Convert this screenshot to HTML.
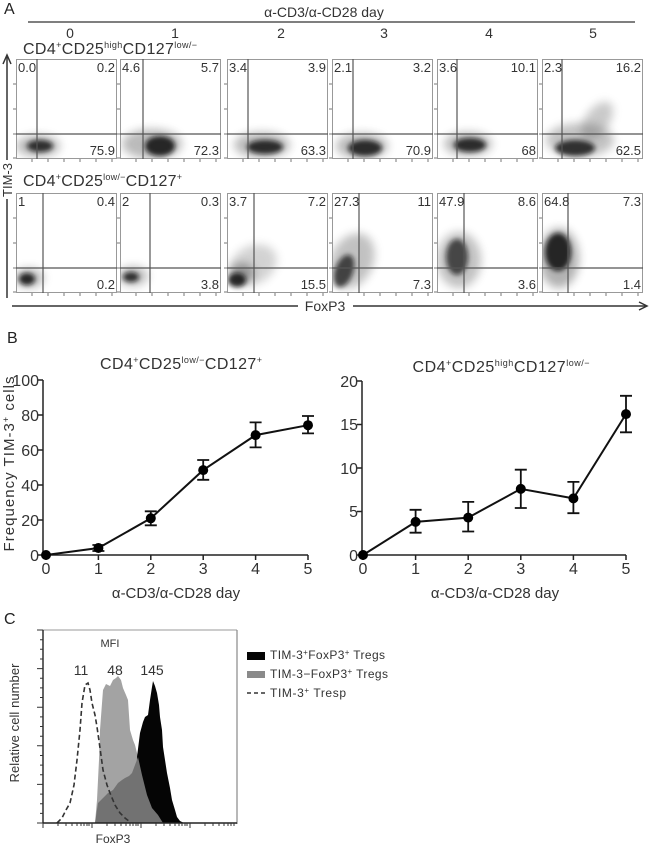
<!DOCTYPE html>
<html><head><meta charset="utf-8"><style>
html,body{margin:0;padding:0;background:#fff;}
svg{display:block;font-family:"Liberation Sans",sans-serif;}
</style></head><body>
<svg width="650" height="844" viewBox="0 0 650 844" xmlns="http://www.w3.org/2000/svg">
<defs>
<filter id="b1" x="-60%" y="-60%" width="220%" height="220%"><feGaussianBlur stdDeviation="2.4"/></filter>
<filter id="b2" x="-60%" y="-60%" width="220%" height="220%"><feGaussianBlur stdDeviation="4.5"/></filter>
<g id="box">
<rect x="0.5" y="0.5" width="100" height="99" fill="none" stroke="#999" stroke-width="1"/>
<path d="M0,25h-3M0,50h-3M0,75h-3M0,99h-3M16,100v3M32,100v3M48,100v3M64,100v3M80,100v3M96,100v3" stroke="#777" stroke-width="1"/>
</g>
</defs>
<rect width="650" height="844" fill="#fff"/>

<!-- Panel A header -->
<text x="4" y="14" font-size="16" fill="#222">A</text>
<text x="324" y="17" font-size="14" fill="#333" text-anchor="middle">α-CD3/α-CD28 day</text>
<line x1="28" y1="22" x2="635" y2="22" stroke="#555" stroke-width="1.6"/>
<g font-size="14" fill="#333" text-anchor="middle">
<text x="70" y="38">0</text><text x="175" y="38">1</text><text x="281" y="38">2</text>
<text x="384" y="38">3</text><text x="489" y="38">4</text><text x="593" y="38">5</text>
</g>
<text x="23" y="54" font-size="16" fill="#333" textLength="174" lengthAdjust="spacing">CD4<tspan font-size="9" dy="-6">+</tspan><tspan dy="6">CD25</tspan><tspan font-size="9" dy="-6">high</tspan><tspan dy="6">CD127</tspan><tspan font-size="9" dy="-6">low/−</tspan></text>
<text x="23" y="186" font-size="16" fill="#333" textLength="159" lengthAdjust="spacing">CD4<tspan font-size="9" dy="-6">+</tspan><tspan dy="6">CD25</tspan><tspan font-size="9" dy="-6">low/−</tspan><tspan dy="6">CD127</tspan><tspan font-size="9" dy="-6">+</tspan></text>

<!-- y arrow -->
<line x1="7" y1="57" x2="7" y2="160" stroke="#333" stroke-width="1.5"/>
<path d="M3,64 L7,55 L11,64" fill="none" stroke="#333" stroke-width="1.5"/>
<text transform="translate(12,180) rotate(-90)" font-size="13" fill="#333" text-anchor="middle">TIM-3</text>
<line x1="7" y1="199" x2="7" y2="298" stroke="#333" stroke-width="1.5"/>
<!-- x arrow -->
<line x1="12" y1="306" x2="298" y2="306" stroke="#333" stroke-width="1.5"/>
<text x="325" y="311" font-size="14" fill="#333" text-anchor="middle">FoxP3</text>
<line x1="353" y1="306" x2="646" y2="306" stroke="#333" stroke-width="1.5"/>
<path d="M639,302 L647,306 L639,310" fill="none" stroke="#333" stroke-width="1.5"/>

<!-- Top row plots -->
<g font-size="13" fill="#333">
<g transform="translate(16,59)">
<svg width="101" height="100" overflow="hidden">
<ellipse cx="22" cy="87" rx="22" ry="11" fill="#555" opacity="0.4" filter="url(#b2)"/>
<ellipse cx="24" cy="87" rx="13" ry="6" fill="#111" opacity="0.8" filter="url(#b1)"/>
</svg>
<use href="#box"/>
<line x1="21" y1="0" x2="21" y2="100" stroke="#555" stroke-width="1.2"/><line x1="0" y1="75" x2="101" y2="75" stroke="#555" stroke-width="1.2"/>
<text x="2" y="13">0.0</text><text x="99" y="13" text-anchor="end">0.2</text><text x="99" y="96" text-anchor="end">75.9</text>
</g>
<g transform="translate(120,59)">
<svg width="101" height="100" overflow="hidden">
<ellipse cx="32" cy="85" rx="30" ry="15" fill="#555" opacity="0.4" filter="url(#b2)"/>
<ellipse cx="40" cy="87" rx="15" ry="10" fill="#111" opacity="0.85" filter="url(#b1)"/>
</svg>
<use href="#box"/>
<line x1="23" y1="0" x2="23" y2="100" stroke="#555" stroke-width="1.2"/><line x1="0" y1="75" x2="101" y2="75" stroke="#555" stroke-width="1.2"/>
<text x="2" y="13">4.6</text><text x="99" y="13" text-anchor="end">5.7</text><text x="99" y="96" text-anchor="end">72.3</text>
</g>
<g transform="translate(227,59)">
<svg width="101" height="100" overflow="hidden">
<ellipse cx="35" cy="86" rx="28" ry="13" fill="#555" opacity="0.4" filter="url(#b2)"/>
<ellipse cx="38" cy="88" rx="18" ry="7" fill="#111" opacity="0.82" filter="url(#b1)"/>
</svg>
<use href="#box"/>
<line x1="21" y1="0" x2="21" y2="100" stroke="#555" stroke-width="1.2"/><line x1="0" y1="75" x2="101" y2="75" stroke="#555" stroke-width="1.2"/>
<text x="2" y="13">3.4</text><text x="99" y="13" text-anchor="end">3.9</text><text x="99" y="96" text-anchor="end">63.3</text>
</g>
<g transform="translate(332,59)">
<svg width="101" height="100" overflow="hidden">
<ellipse cx="30" cy="87" rx="26" ry="13" fill="#555" opacity="0.4" filter="url(#b2)"/>
<ellipse cx="33" cy="89" rx="17" ry="8" fill="#111" opacity="0.82" filter="url(#b1)"/>
</svg>
<use href="#box"/>
<line x1="21" y1="0" x2="21" y2="100" stroke="#555" stroke-width="1.2"/><line x1="0" y1="75" x2="101" y2="75" stroke="#555" stroke-width="1.2"/>
<text x="2" y="13">2.1</text><text x="99" y="13" text-anchor="end">3.2</text><text x="99" y="96" text-anchor="end">70.9</text>
</g>
<g transform="translate(437,59)">
<svg width="101" height="100" overflow="hidden">
<ellipse cx="31" cy="85" rx="24" ry="12" fill="#555" opacity="0.4" filter="url(#b2)"/>
<ellipse cx="33" cy="86" rx="16" ry="7" fill="#111" opacity="0.82" filter="url(#b1)"/>
</svg>
<use href="#box"/>
<line x1="20" y1="0" x2="20" y2="100" stroke="#555" stroke-width="1.2"/><line x1="0" y1="75" x2="101" y2="75" stroke="#555" stroke-width="1.2"/>
<text x="2" y="13">3.6</text><text x="99" y="13" text-anchor="end">10.1</text><text x="99" y="96" text-anchor="end">68</text>
</g>
<g transform="translate(542,59)">
<svg width="101" height="100" overflow="hidden">
<ellipse cx="38" cy="81" rx="34" ry="17" fill="#555" opacity="0.35" filter="url(#b2)"/>
<ellipse cx="55" cy="62" rx="12" ry="22" transform="rotate(35 55 62)" fill="#666" opacity="0.35" filter="url(#b2)"/>
<ellipse cx="33" cy="89" rx="20" ry="8" fill="#111" opacity="0.8" filter="url(#b1)"/>
</svg>
<use href="#box"/>
<line x1="20" y1="0" x2="20" y2="100" stroke="#555" stroke-width="1.2"/><line x1="0" y1="75" x2="101" y2="75" stroke="#555" stroke-width="1.2"/>
<text x="2" y="13">2.3</text><text x="99" y="13" text-anchor="end">16.2</text><text x="99" y="96" text-anchor="end">62.5</text>
</g>

<!-- Bottom row plots -->
<g transform="translate(16,193)">
<svg width="101" height="100" overflow="hidden">
<ellipse cx="13" cy="85" rx="15" ry="10" fill="#555" opacity="0.38" filter="url(#b2)"/>
<ellipse cx="11" cy="86" rx="8" ry="6" fill="#111" opacity="0.85" filter="url(#b1)"/>
</svg>
<use href="#box"/>
<line x1="27" y1="0" x2="27" y2="100" stroke="#555" stroke-width="1.2"/><line x1="0" y1="75" x2="101" y2="75" stroke="#555" stroke-width="1.2"/>
<text x="2" y="13">1</text><text x="99" y="13" text-anchor="end">0.4</text><text x="99" y="96" text-anchor="end">0.2</text>
</g>
<g transform="translate(120,193)">
<svg width="101" height="100" overflow="hidden">
<ellipse cx="13" cy="83" rx="15" ry="10" fill="#555" opacity="0.38" filter="url(#b2)"/>
<ellipse cx="11" cy="84" rx="8" ry="5" fill="#111" opacity="0.8" filter="url(#b1)"/>
</svg>
<use href="#box"/>
<line x1="30" y1="0" x2="30" y2="100" stroke="#555" stroke-width="1.2"/><line x1="0" y1="75" x2="101" y2="75" stroke="#555" stroke-width="1.2"/>
<text x="2" y="13">2</text><text x="99" y="13" text-anchor="end">0.3</text><text x="99" y="96" text-anchor="end">3.8</text>
</g>
<g transform="translate(227,193)">
<svg width="101" height="100" overflow="hidden">
<ellipse cx="26" cy="72" rx="25" ry="19" transform="rotate(-30 26 72)" fill="#777" opacity="0.32" filter="url(#b2)"/>
<ellipse cx="15" cy="80" rx="12" ry="10" fill="#444" opacity="0.45" filter="url(#b2)"/>
<ellipse cx="10" cy="87" rx="9" ry="7" fill="#111" opacity="0.85" filter="url(#b1)"/>
</svg>
<use href="#box"/>
<line x1="27" y1="0" x2="27" y2="100" stroke="#555" stroke-width="1.2"/><line x1="0" y1="75" x2="101" y2="75" stroke="#555" stroke-width="1.2"/>
<text x="2" y="13">3.7</text><text x="99" y="13" text-anchor="end">7.2</text><text x="99" y="96" text-anchor="end">15.5</text>
</g>
<g transform="translate(332,193)">
<svg width="101" height="100" overflow="hidden">
<ellipse cx="20" cy="68" rx="21" ry="29" transform="rotate(25 20 68)" fill="#666" opacity="0.4" filter="url(#b2)"/>
<ellipse cx="12" cy="78" rx="9" ry="17" transform="rotate(20 12 78)" fill="#111" opacity="0.7" filter="url(#b1)"/>
</svg>
<use href="#box"/>
<line x1="27" y1="0" x2="27" y2="100" stroke="#555" stroke-width="1.2"/><line x1="0" y1="75" x2="101" y2="75" stroke="#555" stroke-width="1.2"/>
<text x="2" y="13">27.3</text><text x="99" y="13" text-anchor="end">11</text><text x="99" y="96" text-anchor="end">7.3</text>
</g>
<g transform="translate(437,193)">
<svg width="101" height="100" overflow="hidden">
<ellipse cx="22" cy="67" rx="22" ry="28" fill="#666" opacity="0.4" filter="url(#b2)"/>
<ellipse cx="20" cy="64" rx="11" ry="18" fill="#111" opacity="0.68" filter="url(#b1)"/>
</svg>
<use href="#box"/>
<line x1="27" y1="0" x2="27" y2="100" stroke="#555" stroke-width="1.2"/><line x1="0" y1="75" x2="101" y2="75" stroke="#555" stroke-width="1.2"/>
<text x="2" y="13">47.9</text><text x="99" y="13" text-anchor="end">8.6</text><text x="99" y="96" text-anchor="end">3.6</text>
</g>
<g transform="translate(542,193)">
<svg width="101" height="100" overflow="hidden">
<ellipse cx="17" cy="65" rx="20" ry="30" fill="#555" opacity="0.45" filter="url(#b2)"/>
<ellipse cx="16" cy="59" rx="13" ry="19" fill="#111" opacity="0.85" filter="url(#b1)"/>
</svg>
<use href="#box"/>
<line x1="26" y1="0" x2="26" y2="100" stroke="#555" stroke-width="1.2"/><line x1="0" y1="75" x2="101" y2="75" stroke="#555" stroke-width="1.2"/>
<text x="2" y="13">64.8</text><text x="99" y="13" text-anchor="end">7.3</text><text x="99" y="96" text-anchor="end">1.4</text>
</g>
</g>

<!-- Panel B -->
<text x="7" y="343" font-size="16" fill="#222">B</text>
<text x="181" y="369" font-size="16" fill="#333" text-anchor="middle" textLength="162" lengthAdjust="spacing">CD4<tspan font-size="9" dy="-6">+</tspan><tspan dy="6">CD25</tspan><tspan font-size="9" dy="-6">low/−</tspan><tspan dy="6">CD127</tspan><tspan font-size="9" dy="-6">+</tspan></text>
<text x="501" y="372" font-size="16" fill="#333" text-anchor="middle" textLength="177" lengthAdjust="spacing">CD4<tspan font-size="9" dy="-6">+</tspan><tspan dy="6">CD25</tspan><tspan font-size="9" dy="-6">high</tspan><tspan dy="6">CD127</tspan><tspan font-size="9" dy="-6">low/−</tspan></text>

<!-- left chart -->
<g stroke="#222" stroke-width="1.5" fill="none">
<path d="M43,380 V555 H308"/>
<path d="M43,380h-5M43,415h-5M43,450h-5M43,485h-5M43,520h-5M43,555h-5"/>
<path d="M46,555v5M98.4,555v5M150.8,555v5M203.2,555v5M255.6,555v5M308,555v5"/>
</g>
<g font-size="16" fill="#333" text-anchor="end">
<text x="39" y="386">100</text><text x="39" y="421">80</text><text x="39" y="456">60</text>
<text x="39" y="491">40</text><text x="39" y="526">20</text><text x="39" y="561">0</text>
</g>
<g font-size="16" fill="#333" text-anchor="middle">
<text x="46" y="574">0</text><text x="98.4" y="574">1</text><text x="150.8" y="574">2</text>
<text x="203.2" y="574">3</text><text x="255.6" y="574">4</text><text x="308" y="574">5</text>
</g>
<text x="176" y="598" font-size="15" fill="#333" text-anchor="middle">α-CD3/α-CD28 day</text>
<text transform="translate(14,464) rotate(-90)" font-size="15" fill="#333" text-anchor="middle" textLength="175" lengthAdjust="spacing">Frequency TIM-3<tspan font-size="9" dy="-5">+</tspan><tspan dy="5"> cells</tspan></text>
<polyline points="46,555 98.4,548 150.8,518.3 203.2,470.1 255.6,435.1 308,425.2" fill="none" stroke="#111" stroke-width="2"/>
<g stroke="#111" stroke-width="1.8" fill="none">
<path d="M98.4,551v-6M92.4,551h12M92.4,545h12"/>
<path d="M150.8,525.3V511.3M144.8,525.3h12M144.8,511.3h12"/>
<path d="M203.2,479.8V460M197.2,479.8h12M197.2,460h12"/>
<path d="M255.6,447.4V422.4M249.6,447.4h12M249.6,422.4h12"/>
<path d="M308,433.4V416M302,433.4h12M302,416h12"/>
</g>
<g fill="#000">
<circle cx="46" cy="555" r="5"/><circle cx="98.4" cy="548" r="5"/><circle cx="150.8" cy="518.3" r="5"/>
<circle cx="203.2" cy="470.1" r="5"/><circle cx="255.6" cy="435.1" r="5"/><circle cx="308" cy="425.2" r="5"/>
</g>

<!-- right chart -->
<g stroke="#222" stroke-width="1.5" fill="none">
<path d="M362,381 V555 H626"/>
<path d="M362,381h-5M362,424.5h-5M362,468h-5M362,511.5h-5M362,555h-5"/>
<path d="M363,555v5M415.6,555v5M468.2,555v5M520.8,555v5M573.4,555v5M626,555v5"/>
</g>
<g font-size="16" fill="#333" text-anchor="end">
<text x="358" y="387">20</text><text x="358" y="430">15</text><text x="358" y="474">10</text>
<text x="358" y="517">5</text><text x="358" y="561">0</text>
</g>
<g font-size="16" fill="#333" text-anchor="middle">
<text x="363" y="574">0</text><text x="415.6" y="574">1</text><text x="468.2" y="574">2</text>
<text x="520.8" y="574">3</text><text x="573.4" y="574">4</text><text x="626" y="574">5</text>
</g>
<text x="495" y="598" font-size="15" fill="#333" text-anchor="middle">α-CD3/α-CD28 day</text>
<polyline points="363,555 415.6,521.9 468.2,517.6 520.8,488.9 573.4,498.4 626,414.1" fill="none" stroke="#111" stroke-width="2"/>
<g stroke="#111" stroke-width="1.8" fill="none">
<path d="M415.6,532.7V509.8M409.6,532.7h12M409.6,509.8h12"/>
<path d="M468.2,531.5V501.9M462.2,531.5h12M462.2,501.9h12"/>
<path d="M520.8,508V469.7M514.8,508h12M514.8,469.7h12"/>
<path d="M573.4,513.2V481.9M567.4,513.2h12M567.4,481.9h12"/>
<path d="M626,432.3V395.8M620,432.3h12M620,395.8h12"/>
</g>
<g fill="#000">
<circle cx="363" cy="555" r="5"/><circle cx="415.6" cy="521.9" r="5"/><circle cx="468.2" cy="517.6" r="5"/>
<circle cx="520.8" cy="488.9" r="5"/><circle cx="573.4" cy="498.4" r="5"/><circle cx="626" cy="414.1" r="5"/>
</g>

<!-- Panel C -->
<text x="4" y="624" font-size="16" fill="#222">C</text>
<path d="M95,823 L97,800 L99,760 L100,730 L103,690 L106,684 L110,686 L113,680 L116,678 L118,676 L121,680 L123,688 L126,695 L128,700 L130,730 L133,740 L135,745 L138,757 L142,775 L150,800 L160,820 L163,823 Z" fill="#a3a3a3"/>
<path d="M136,823 L137,757 L140,733 L143,722 L145,717 L148,715 L150,700 L152,687 L153,681 L155,686 L157,693 L159,705 L160,717 L162,730 L163,747 L165,760 L167,773 L170,788 L172,800 L175,810 L177,817 L180,821 L184,823 Z" fill="#050505"/>
<path d="M95,823 L98,803 L103,798 L108,793 L113,790 L118,783 L122,780 L125,778 L129,776 L132,773 L135,765 L138,757 L142,775 L147,795 L152,808 L158,815 L163,823 Z" fill="#727272"/>
<path d="M57,823 L62,818 L66,810 L70,803 L74,785 L77,760 L80,730 L82,703 L85,685 L88,683 L90,690 L92,703 L95,715 L97,727 L100,748 L103,770 L107,785 L110,793 L115,805 L120,813 L125,818 L130,822" fill="none" stroke="#333" stroke-width="1.6" stroke-dasharray="5,3"/>
<line x1="43" y1="630" x2="237" y2="630" stroke="#999" stroke-width="1"/>
<line x1="237" y1="630" x2="237" y2="824" stroke="#888" stroke-width="1.2"/>
<line x1="43" y1="630" x2="43" y2="823" stroke="#222" stroke-width="1.4"/>
<line x1="43" y1="823" x2="237" y2="823" stroke="#222" stroke-width="1.4"/>
<g stroke="#333" stroke-width="1">
<path d="M43,630h-6M43,668.6h-6M43,707.2h-6M43,745.8h-6M43,784.4h-6M43,823h-6"/>
<path d="M43,639.7h-3M43,649.3h-3M43,659h-3M43,678.3h-3M43,687.9h-3M43,697.5h-3M43,716.9h-3M43,726.5h-3M43,736.2h-3M43,755.5h-3M43,765.1h-3M43,774.8h-3M43,794.1h-3M43,803.7h-3M43,813.4h-3"/>
<path d="M43,823v5M92,823v5M141,823v5M190,823v5"/>
<path d="M58,823v3M66,823v3M72,823v3M77,823v3M81,823v3M84,823v3M87,823v3M89,823v3M107,823v3M115,823v3M121,823v3M126,823v3M130,823v3M133,823v3M136,823v3M138,823v3M156,823v3M164,823v3M170,823v3M175,823v3M179,823v3M182,823v3M185,823v3M187,823v3M205,823v3M213,823v3M219,823v3M224,823v3M228,823v3M231,823v3M234,823v3"/>
</g>
<text x="110" y="647" font-size="11" fill="#333" text-anchor="middle">MFI</text>
<g font-size="14" fill="#333" text-anchor="middle">
<text x="81" y="675">11</text><text x="115" y="675">48</text><text x="152" y="675">145</text>
</g>
<text transform="translate(19,723) rotate(-90)" font-size="13" fill="#333" text-anchor="middle" textLength="119" lengthAdjust="spacing">Relative cell number</text>
<text x="113" y="843" font-size="12" fill="#333" text-anchor="middle">FoxP3</text>
<rect x="247" y="652" width="18" height="8" fill="#050505"/>
<rect x="247" y="671" width="18" height="7" fill="#8a8a8a"/>
<line x1="247" y1="693" x2="266" y2="693" stroke="#333" stroke-width="1.5" stroke-dasharray="4,3"/>
<g font-size="12" fill="#333">
<text x="270" y="659" textLength="115" lengthAdjust="spacing">TIM-3<tspan font-size="8" dy="-4">+</tspan><tspan dy="4">FoxP3</tspan><tspan font-size="8" dy="-4">+</tspan><tspan dy="4"> Tregs</tspan></text>
<text x="270" y="678" textLength="118" lengthAdjust="spacing">TIM-3−FoxP3<tspan font-size="8" dy="-4">+</tspan><tspan dy="4"> Tregs</tspan></text>
<text x="270" y="697" textLength="76" lengthAdjust="spacing">TIM-3<tspan font-size="8" dy="-4">+</tspan><tspan dy="4"> Tresp</tspan></text>
</g>
</svg>
</body></html>
